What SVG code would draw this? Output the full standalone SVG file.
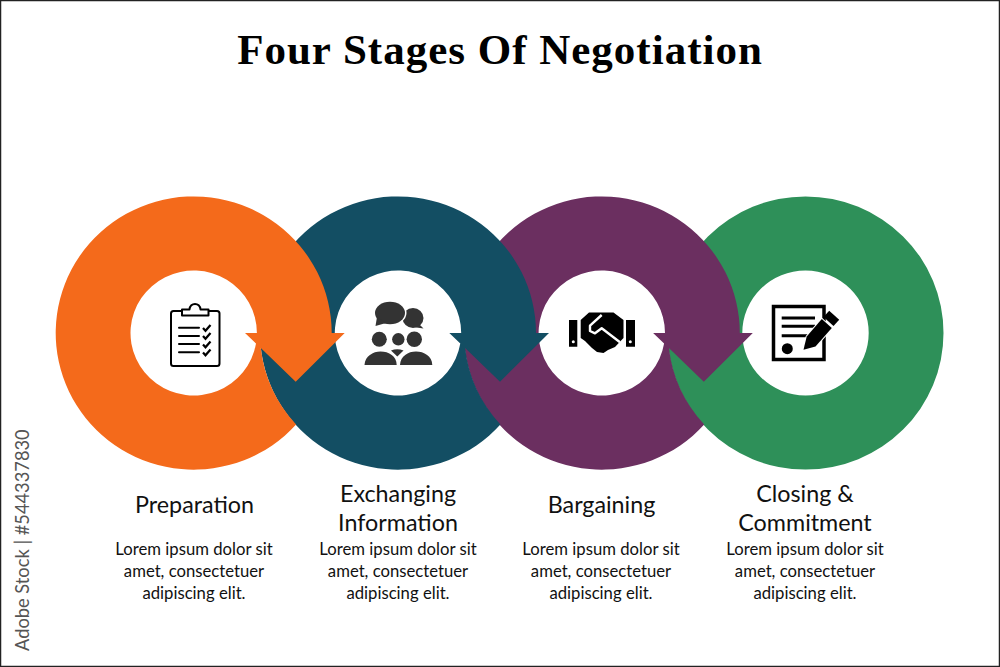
<svg xmlns="http://www.w3.org/2000/svg" xmlns:xlink="http://www.w3.org/1999/xlink" width="1000" height="667" viewBox="0 0 1000 667">
<style>
.title{font:bold 43px "Liberation Serif",serif;letter-spacing:1px;fill:#000;text-anchor:middle}
.head{font:23.300px Lato,"Open Sans",sans-serif;fill:#111;text-anchor:middle}
.body{font:16.700px Lato,"Open Sans",sans-serif;fill:#111;text-anchor:middle}
.side{font:18.300px Lato,"Open Sans",sans-serif;fill:#555}
.ln{fill:none;stroke:#000;stroke-width:2;stroke-linecap:round;stroke-linejoin:round}
</style>
<defs>
<path id="ring" fill-rule="evenodd" d="M138 0A138 136.6 0 1 0-138 0A138 136.6 0 1 0 138 0ZM63.2 0A63.2 62.5 0 1 0-63.2 0A63.2 62.5 0 1 0 63.2 0Z"/>
<path id="arrowRing" fill-rule="evenodd" d="M151 0L138 0A138 136.6 0 1 0 102.4 91.6A138 136.6 0 0 1 67.100 15.100L102 48.7ZM63.2 0A63.2 62.5 0 1 0 62.3 10.55L51.3 0Z"/>
<path id="check" d="M0 2l2.5 2.8 5-5.8" fill="none" stroke="#000" stroke-width="2.200"/>
</defs>
<rect width="1000" height="667" fill="#fff"/>
<rect x="0.500" y="0.500" width="999" height="666" fill="none" stroke="#222" stroke-width="1.500"/>
<text class="title" x="500" y="64">Four Stages Of Negotiation</text>
<text class="side" transform="translate(29 651) rotate(-90)">Adobe Stock | #544337830</text>

<g id="connectors">
<use xlink:href="#ring" href="#ring" x="805.500" y="333" fill="#2E9059"/>
<use xlink:href="#arrowRing" href="#arrowRing" x="601.800" y="333" fill="#6B2F60"/>
<use xlink:href="#arrowRing" href="#arrowRing" x="398" y="333" fill="#134E63"/>
<use xlink:href="#arrowRing" href="#arrowRing" x="193.700" y="333" fill="#F46A1B"/>
</g>

<g id="node-preparation">
<rect class="ln" x="171" y="311" width="48.500" height="55" rx="2.500"/>
<path d="M182 315.500V309.500H189.500C190 302 200 302 200.500 309.500H208.500V315.500Z" fill="#fff" stroke="#000" stroke-width="2" stroke-linejoin="round"/>
<path class="ln" d="M179 327.700H199M179 336H199M179 344H199M179 352.300H199"/>
<use xlink:href="#check" href="#check" x="203" y="326"/>
<use xlink:href="#check" href="#check" x="203" y="334"/>
<use xlink:href="#check" href="#check" x="203" y="342.500"/>
<use xlink:href="#check" href="#check" x="203" y="350.500"/>
<text class="head" x="194.500" y="513">Preparation</text>
<text class="body" x="194" y="554.500">Lorem ipsum dolor sit</text>
<text class="body" x="194" y="577">amet, consectetuer</text>
<text class="body" x="194" y="599">adipiscing elit.</text>
</g>

<g id="node-exchanging">
<g fill="#333">
<ellipse cx="413" cy="318" rx="10.500" ry="10"/>
<path d="M419 324L423.500 328.500L413 327Z"/>
<ellipse cx="390" cy="313" rx="16.500" ry="12.500" fill="#fff"/>
<ellipse cx="390" cy="313" rx="15" ry="11.300"/>
<path d="M377 317L375.500 326L386 323Z"/>
<circle cx="379.300" cy="339.300" r="7.500"/>
<circle cx="398.300" cy="339.300" r="6.200"/>
<circle cx="414.300" cy="339.300" r="7.700"/>
<path d="M364.500 365C365 356 373 351.500 380.500 351.500C389 351.500 396.500 356 396.700 365Z"/>
<path d="M400 365C400.500 356 408 351.500 416 351.500C424 351.500 432 356 432.300 365Z"/>
<path d="M391 350.500Q397.300 347.800 403.500 350.500L397.300 356.500Z"/>
</g>
<text class="head" x="398" y="501.700">Exchanging</text>
<text class="head" x="398" y="530.700">Information</text>
<text class="body" x="398" y="554.500">Lorem ipsum dolor sit</text>
<text class="body" x="398" y="577">amet, consectetuer</text>
<text class="body" x="398" y="599">adipiscing elit.</text>
</g>

<g id="node-bargaining">
<path d="M569 320H577.300V346.700H569Z M626 320H635V346.700H626Z"/>
<circle cx="573.300" cy="341.700" r="1.500" fill="#fff"/>
<circle cx="630.300" cy="341.700" r="1.500" fill="#fff"/>
<path d="M580.700 320L589 312.500H613.500L623.500 320V338L615 347L608 350L603.500 353L597 352L592 348L585 341L580.700 338Z"/>
<path d="M601.700 315L590 325.700V331L595 333.300L601.700 328.300L620 342.300" fill="none" stroke="#fff" stroke-width="2.400" stroke-linejoin="round"/>
<text class="head" x="601.500" y="513">Bargaining</text>
<text class="body" x="601" y="554.500">Lorem ipsum dolor sit</text>
<text class="body" x="601" y="577">amet, consectetuer</text>
<text class="body" x="601" y="599">adipiscing elit.</text>
</g>

<g id="node-closing">
<rect x="773.500" y="306.500" width="50.500" height="53" fill="#fff" stroke="#000" stroke-width="3.500"/>
<path d="M781.700 318H815M781.700 326.300H815M781.700 335.700H811" stroke="#000" stroke-width="3" fill="none"/>
<circle cx="787.300" cy="348.700" r="5.500"/>
<path d="M803.500 349.700L806.700 336.500L821.800 319L831.800 328L815.500 346.500Z" stroke="#fff" stroke-width="2" paint-order="stroke"/>
<path d="M823.500 317.100L829.200 310.800L839.200 319.800L833.500 326.100Z"/>
<text class="head" x="805" y="501.700">Closing &amp;</text>
<text class="head" x="805" y="530.700">Commitment</text>
<text class="body" x="805" y="554.500">Lorem ipsum dolor sit</text>
<text class="body" x="805" y="577">amet, consectetuer</text>
<text class="body" x="805" y="599">adipiscing elit.</text>
</g>
</svg>
